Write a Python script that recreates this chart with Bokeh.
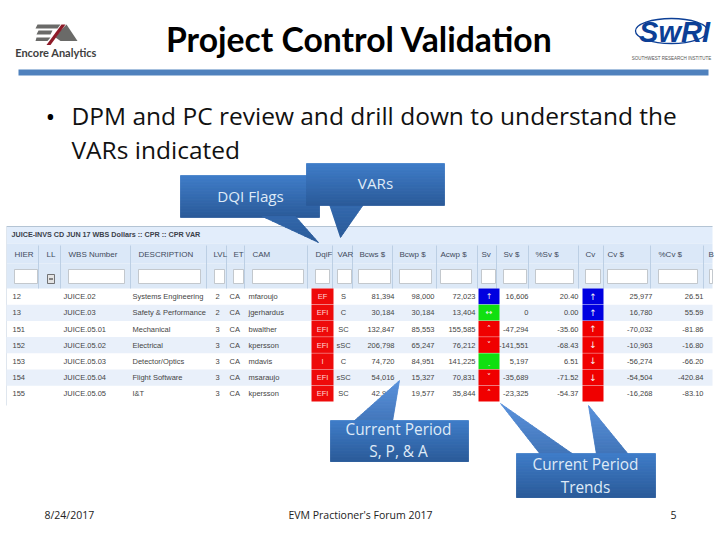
from bokeh.plotting import figure
from bokeh.models import Range1d
from bokeh.core.properties import value
from bokeh.embed import file_html
from bokeh.resources import INLINE

# ---------- slide content ----------
title = "Project Control Validation"
bullet_lines = ["DPM and PC review and drill down to understand the", "VARs indicated"]
footer_date = "8/24/2017"
footer_mid = "EVM Practioner's Forum 2017"
footer_page = "5"
table_title = "JUICE-INVS CD JUN 17 WBS Dollars :: CPR :: CPR VAR"
headers = ["HIER", "LL", "WBS Number", "DESCRIPTION", "LVL", "ET", "CAM", "DqiF", "VAR", "Bcws $", "Bcwp $",
           "Acwp $", "Sv", "Sv $", "%Sv $", "Cv", "Cv $", "%Cv $", "B"]

# ---------- table values ----------
hier = ["12", "13", "151", "152", "153", "154", "155"]
wbs = ["JUICE.02", "JUICE.03", "JUICE.05.01", "JUICE.05.02", "JUICE.05.03", "JUICE.05.04", "JUICE.05.05"]
desc = ["Systems Engineering", "Safety & Performance", "Mechanical", "Electrical", "Detector/Optics",
        "Flight Software", "I&T"]
lvl = ["2", "2", "3", "3", "3", "3", "3"]
et = ["CA"] * 7
cam = ["mfaroujo", "jgerhardus", "bwalther", "kpersson", "mdavis", "msaraujo", "kpersson"]
dqi = ["EF", "EFI", "EFI", "EFI", "I", "EFI", "EFI"]
var = ["S", "C", "SC", "sSC", "C", "sSC", "SC"]
bcws = ["81,394", "30,184", "132,847", "206,798", "74,720", "54,016", "42,902"]
bcwp = ["98,000", "30,184", "85,553", "65,247", "84,951", "15,327", "19,577"]
acwp = ["72,023", "13,404", "155,585", "76,212", "141,225", "70,831", "35,844"]
sv_sym = ["↑", "↔", "˄", "˅", "˯", "˅", "˄"]
sv_val = ["16,606", "0", "-47,294", "-141,551", "5,197", "-35,689", "-23,325"]
sv_pct = ["20.40", "0.00", "-35.60", "-68.43", "6.51", "-71.52", "-54.37"]
cv_sym = ["↑", "↑", "↑", "↓", "↓", "↓", ""]
cv_val = ["25,977", "16,780", "-70,032", "-10,963", "-56,274", "-54,504", "-16,268"]
cv_pct = ["26.51", "55.59", "-81.86", "-16.80", "-66.20", "-420.84", "-83.10"]
sv_col = ["#0000e0", "#10e010", "#f00000", "#f00000", "#10e010", "#f00000", "#f00000"]
cv_col = ["#0000e0", "#0000e0", "#f00000", "#f00000", "#f00000", "#f00000", "#f00000"]

# ---------- layout (reference pixel frame) ----------
col_left = [12, 46, 63, 132, 215, 229, 248]
num_right = {394: bcws, 434: bcwp, 475: acwp, 528: sv_val, 578: sv_pct, 652: cv_val, 703: cv_pct}
col_edges = [38, 60, 130, 206, 226, 244, 307, 332, 352, 392, 436, 477, 496, 528, 578, 603, 650, 703]
filter_boxes = [(14, 37), (68, 124), (138, 200), (214, 224), (233, 243), (252, 303), (315, 329), (337, 351),
                (358, 390), (399, 431), (440, 471), (481, 495), (503, 526), (535, 573), (585, 600), (607, 647),
                (658, 697), (709, 712)]
header_x = [14, 46, 68, 138, 213, 233, 252, 315, 337, 359, 399, 440, 481, 503, 535, 585, 607, 658, 708]
row_top = [288, 304.2, 320.4, 336.6, 352.8, 369, 385.2]
row_h = 16.2
row_mid = [t + row_h / 2 for t in row_top]

p = figure(width=720, height=540, output_backend="svg", toolbar_location=None,
           x_range=Range1d(0, 720), y_range=Range1d(540, 0), min_border=0,
           x_axis_type=None, y_axis_type=None, outline_line_color=None, background_fill_color="white",
           border_fill_color="white")
p.grid.visible = False


def lerp(c0, c1, t):
    a = [int(c0[i:i + 2], 16) for i in (1, 3, 5)]
    b = [int(c1[i:i + 2], 16) for i in (1, 3, 5)]
    return "#%02x%02x%02x" % tuple(round(u + (v - u) * t) for u, v in zip(a, b))


def clip_band(pts, y0, y1):
    def clip(poly, keep, cross):
        out = []
        for i, a in enumerate(poly):
            b = poly[(i + 1) % len(poly)]
            if keep(a):
                out.append(a)
            if keep(a) != keep(b):
                t = (cross - a[1]) / (b[1] - a[1])
                out.append((a[0] + (b[0] - a[0]) * t, cross))
        return out
    q = clip(pts, lambda v: v[1] >= y0, y0)
    return clip(q, lambda v: v[1] <= y1, y1) if q else q


def gradient_poly(pts, ymin, ymax, c0, c1, step=1.5):
    xs, ys, cs = [], [], []
    y = min(v[1] for v in pts)
    end = max(v[1] for v in pts)
    while y < end:
        q = clip_band(pts, y, y + step)
        if len(q) >= 3:
            t = max(0, min(1, (y - ymin) / (ymax - ymin)))
            xs.append([v[0] for v in q])
            ys.append([v[1] for v in q])
            cs.append(lerp(c0, c1, t))
        y += step
    p.patches(xs, ys, fill_color=cs, line_color=cs, line_width=0.8)


def rect(x0, x1, y0, y1, fill, line=None, lw=1):
    p.quad(left=[x0], right=[x1], top=[y0], bottom=[y1], fill_color=fill, line_color=line, line_width=lw)


def text(x, y, s, size, color="#000000", align="left", style="normal", font="Liberation Sans"):
    p.text([x], [y], text=[s], text_font=value(font), text_font_size=f"{size}px", text_color=color,
           text_align=align, text_baseline="middle", text_font_style=style)


# ---------- header of the slide ----------
text(359, 38.5, title, 33.7, "#000000", "center", "bold", "Lato")
rect(18, 708, 69, 75, "#4f81bd")
# Encore Analytics logo
p.patches([[37, 60, 57, 35], [38, 52, 50, 36], [36, 50, 47, 35], [60, 66, 77, 60, 55]],
          [[24, 24, 28, 28], [30, 30, 34, 34], [37, 37, 40.5, 40.5], [30, 24, 40.5, 40.5, 37]],
          fill_color="#6a6a68", line_color=None)
p.patches([[46, 61, 65, 50]], [[44.5, 24, 24, 44.5]], fill_color="#8e1b28", line_color=None)
text(55.5, 52, "Encore Analytics", 11, "#404040", "center", "bold", "Lato")
# SwRI logo
p.ellipse([671], [30.5], width=[72], height=[25], fill_color=None, line_color="#0c3f96", line_width=1.3)
text(674, 31.5, "SwRI", 29, "#0c3f96", "center", "bold italic", "Liberation Sans")
text(671, 58, "SOUTHWEST RESEARCH INSTITUTE", 4.5, "#555555", "center")

# ---------- bullet ----------
text(45, 115, "•", 26, "#000000", "left", "normal", "Open Sans")
text(71, 115, bullet_lines[0], 24.5, "#111111", "left", "normal", "Open Sans")
text(71, 148.5, bullet_lines[1], 24.5, "#111111", "left", "normal", "Open Sans")

# ---------- table ----------
rect(6, 712, 226, 243, "#e2edfb")
rect(6, 712, 243, 263, "#dbe8f8")
rect(6, 712, 263, 288, "#dde9f7")
p.line([6, 712], [226, 226], line_color="#b4c4d4", line_width=1)
p.line([6, 6], [226, 405], line_color="#dfe6ee", line_width=1)
for i, t in enumerate(row_top):
    if i % 2 == 1:
        rect(6, 712, t, t + row_h, "#e9f0fa")
for e in col_edges:
    p.line([e, e], [245, 288], line_color="#bccfe4", line_width=1)
for a, b in filter_boxes:
    rect(a, b, 269, 283, "white", "#b8bcc2", 0.8)
rect(47, 54, 274, 283, "#e4e4e4", "#555555", 0.8)
rect(48.5, 52.5, 278, 279, "#222222")
text(11, 234, table_title, 7.2, "#3a3f4a", "left", "bold")
for x, s in zip(header_x, headers):
    text(x, 254, s, 8, "#3f4a5c")

for col_x, col in zip(col_left, [hier, [""] * 7, wbs, desc, lvl, et, cam]):
    p.text([col_x] * 7, row_mid, text=col, text_font=value("Liberation Sans"), text_font_size="7.5px",
           text_color="#454545", text_baseline="middle")
for x, col in num_right.items():
    p.text([x] * 7, row_mid, text=col, text_font=value("Liberation Sans"), text_font_size="7.5px",
           text_color="#454545", text_baseline="middle", text_align="right")
p.text([343] * 7, row_mid, text=var, text_font=value("Liberation Sans"), text_font_size="7.5px",
       text_color="#454545", text_baseline="middle", text_align="center")

tops = row_top
bots = [t + row_h - 0.4 for t in row_top]
p.quad(left=[311] * 7, right=[333] * 7, top=tops, bottom=bots, fill_color="#ee0a0a", line_color=None)
p.text([322] * 7, row_mid, text=dqi, text_font=value("Liberation Sans"), text_font_size="7.5px",
       text_color="#ffd8d8", text_baseline="middle", text_align="center")
p.quad(left=[478] * 7, right=[499] * 7, top=tops, bottom=bots, fill_color=sv_col, line_color=None)
p.text([488.5] * 7, row_mid, text=sv_sym, text_font=value("DejaVu Sans"), text_font_size="8px",
       text_color="#f4f4f4", text_baseline="middle", text_align="center")
p.quad(left=[582] * 7, right=[603] * 7, top=tops, bottom=bots, fill_color=cv_col, line_color=None)
p.text([592.5] * 7, row_mid, text=cv_sym, text_font=value("DejaVu Sans"), text_font_size="9px",
       text_color="#f4f4f4", text_baseline="middle", text_align="center")

# ---------- callouts ----------
C0, C1 = "#3f7cc8", "#2a5a98"
gradient_poly([(180, 175), (319, 175), (319, 217), (180, 217)], 175, 217, C0, C1)
gradient_poly([(262, 216), (295, 216), (318, 242)], 175, 242, C0, C1)
gradient_poly([(329, 204), (363, 204), (340, 237)], 163, 237, C0, C1)
gradient_poly([(306, 163), (444, 163), (444, 205), (306, 205)], 163, 205, C0, C1)
gradient_poly([(399, 380), (392, 421), (353, 421)], 380, 461, "#5a92dc", C1)
gradient_poly([(330, 420), (468, 420), (468, 461), (330, 461)], 420, 461, C0, C1)
gradient_poly([(500, 403), (573, 454), (540, 454)], 403, 497, "#5a92dc", C1)
gradient_poly([(588, 405), (628, 454), (596, 454)], 403, 497, "#5a92dc", C1)
gradient_poly([(516, 453), (655, 453), (655, 497), (516, 497)], 453, 497, C0, C1)
LT = "#dfeaf7"
text(250, 195.5, "DQI Flags", 15.2, LT, "center", "normal", "Open Sans")
text(375, 182.5, "VARs", 15.2, LT, "center", "normal", "Open Sans")
text(398, 428.5, "Current Period", 15.4, LT, "center", "normal", "Open Sans")
text(398, 450.5, "S, P, & A", 15.4, LT, "center", "normal", "Open Sans")
text(585, 463.5, "Current Period", 15.4, LT, "center", "normal", "Open Sans")
text(585, 486.5, "Trends", 15.4, LT, "center", "normal", "Open Sans")

# ---------- footer ----------
text(44, 514, footer_date, 10.5, "#222222", "left", "normal", "Open Sans")
text(360, 514, footer_mid, 10.5, "#222222", "center", "normal", "Open Sans")
text(673, 514, footer_page, 10.5, "#222222", "center", "normal", "Open Sans")

open("out.html", "w").write(file_html(p, INLINE))
